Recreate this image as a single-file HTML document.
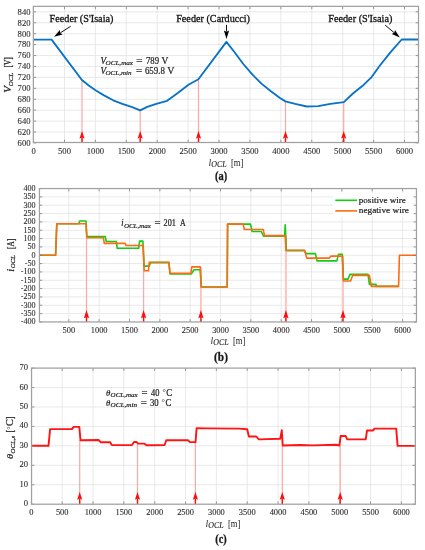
<!DOCTYPE html>
<html><head><meta charset="utf-8"><title>OCL figure</title><style>html,body{margin:0;padding:0;background:#fff;width:425px;height:550px;overflow:hidden}svg{display:block}</style></head><body>
<svg width="425" height="550" viewBox="0 0 425 550">
<rect width="425" height="550" fill="#ffffff"/>
<line x1="33.35" y1="132.02" x2="418.5" y2="132.02" stroke="#e3e3e3" stroke-width="0.8" />
<line x1="33.35" y1="121.09" x2="418.5" y2="121.09" stroke="#e3e3e3" stroke-width="0.8" />
<line x1="33.35" y1="110.17" x2="418.5" y2="110.17" stroke="#e3e3e3" stroke-width="0.8" />
<line x1="33.35" y1="99.25" x2="418.5" y2="99.25" stroke="#e3e3e3" stroke-width="0.8" />
<line x1="33.35" y1="88.32" x2="418.5" y2="88.32" stroke="#e3e3e3" stroke-width="0.8" />
<line x1="33.35" y1="77.4" x2="418.5" y2="77.4" stroke="#e3e3e3" stroke-width="0.8" />
<line x1="33.35" y1="66.48" x2="418.5" y2="66.48" stroke="#e3e3e3" stroke-width="0.8" />
<line x1="33.35" y1="55.55" x2="418.5" y2="55.55" stroke="#e3e3e3" stroke-width="0.8" />
<line x1="33.35" y1="44.63" x2="418.5" y2="44.63" stroke="#e3e3e3" stroke-width="0.8" />
<line x1="33.35" y1="33.71" x2="418.5" y2="33.71" stroke="#e3e3e3" stroke-width="0.8" />
<line x1="33.35" y1="22.78" x2="418.5" y2="22.78" stroke="#e3e3e3" stroke-width="0.8" />
<line x1="33.35" y1="11.86" x2="418.5" y2="11.86" stroke="#e3e3e3" stroke-width="0.8" />
<line x1="64.5" y1="6.35" x2="64.5" y2="142.5" stroke="#e3e3e3" stroke-width="0.8" />
<line x1="95.41" y1="6.35" x2="95.41" y2="142.5" stroke="#e3e3e3" stroke-width="0.8" />
<line x1="126.32" y1="6.35" x2="126.32" y2="142.5" stroke="#e3e3e3" stroke-width="0.8" />
<line x1="157.23" y1="6.35" x2="157.23" y2="142.5" stroke="#e3e3e3" stroke-width="0.8" />
<line x1="188.13" y1="6.35" x2="188.13" y2="142.5" stroke="#e3e3e3" stroke-width="0.8" />
<line x1="219.04" y1="6.35" x2="219.04" y2="142.5" stroke="#e3e3e3" stroke-width="0.8" />
<line x1="249.95" y1="6.35" x2="249.95" y2="142.5" stroke="#e3e3e3" stroke-width="0.8" />
<line x1="280.86" y1="6.35" x2="280.86" y2="142.5" stroke="#e3e3e3" stroke-width="0.8" />
<line x1="311.77" y1="6.35" x2="311.77" y2="142.5" stroke="#e3e3e3" stroke-width="0.8" />
<line x1="342.68" y1="6.35" x2="342.68" y2="142.5" stroke="#e3e3e3" stroke-width="0.8" />
<line x1="373.59" y1="6.35" x2="373.59" y2="142.5" stroke="#e3e3e3" stroke-width="0.8" />
<line x1="404.5" y1="6.35" x2="404.5" y2="142.5" stroke="#e3e3e3" stroke-width="0.8" />
<line x1="82" y1="79.6" x2="82" y2="142.5" stroke="#ffa6a6" stroke-width="1.2" />
<line x1="82" y1="142.5" x2="82" y2="137.3" stroke="#ff0d0d" stroke-width="1.4" />
<path d="M82,130.9 L84.6,138.7 L82,137.3 L79.4,138.7 Z" fill="#ff0d0d"/>
<line x1="140.2" y1="110.3" x2="140.2" y2="142.5" stroke="#ffa6a6" stroke-width="1.2" />
<line x1="140.2" y1="142.5" x2="140.2" y2="137.3" stroke="#ff0d0d" stroke-width="1.4" />
<path d="M140.2,130.9 L142.8,138.7 L140.2,137.3 L137.6,138.7 Z" fill="#ff0d0d"/>
<line x1="198.5" y1="79.4" x2="198.5" y2="142.5" stroke="#ffa6a6" stroke-width="1.2" />
<line x1="198.5" y1="142.5" x2="198.5" y2="137.3" stroke="#ff0d0d" stroke-width="1.4" />
<path d="M198.5,130.9 L201.1,138.7 L198.5,137.3 L195.9,138.7 Z" fill="#ff0d0d"/>
<line x1="285.5" y1="101.3" x2="285.5" y2="142.5" stroke="#ffa6a6" stroke-width="1.2" />
<line x1="285.5" y1="142.5" x2="285.5" y2="137.3" stroke="#ff0d0d" stroke-width="1.4" />
<path d="M285.5,130.9 L288.1,138.7 L285.5,137.3 L282.9,138.7 Z" fill="#ff0d0d"/>
<line x1="343.7" y1="102.3" x2="343.7" y2="142.5" stroke="#ffa6a6" stroke-width="1.2" />
<line x1="343.7" y1="142.5" x2="343.7" y2="137.3" stroke="#ff0d0d" stroke-width="1.4" />
<path d="M343.7,130.9 L346.3,138.7 L343.7,137.3 L341.1,138.7 Z" fill="#ff0d0d"/>
<polyline points="33.9,39.6 51.6,39.6 81.9,80 88.7,85.5 96.3,90.8 104,95.4 113.2,100.3 122.3,103.8 131.5,106.9 140.2,110.4 147.2,106.9 156.3,103.8 167.1,100.8 177.8,93.1 188.5,84.7 198.4,79.3 226.4,41.9 234.2,51.8 243.3,64 252.5,74.7 261.7,83.9 270.9,91.2 280,98 285.4,101.4 295.2,103.9 306.7,106.5 318.2,106.2 330.4,103.9 343.8,102.1 353.2,93.3 362.6,85.8 371.1,77.7 379.5,66 390.8,51.9 401.7,39.5 418,39.5" fill="none" stroke="#0872c8" stroke-width="1.85" stroke-linejoin="round" stroke-linecap="butt" />
<line x1="33.35" y1="142.94" x2="36.15" y2="142.94" stroke="#707070" stroke-width="0.7" />
<line x1="418.5" y1="142.94" x2="415.7" y2="142.94" stroke="#707070" stroke-width="0.7" />
<line x1="33.35" y1="132.02" x2="36.15" y2="132.02" stroke="#707070" stroke-width="0.7" />
<line x1="418.5" y1="132.02" x2="415.7" y2="132.02" stroke="#707070" stroke-width="0.7" />
<line x1="33.35" y1="121.09" x2="36.15" y2="121.09" stroke="#707070" stroke-width="0.7" />
<line x1="418.5" y1="121.09" x2="415.7" y2="121.09" stroke="#707070" stroke-width="0.7" />
<line x1="33.35" y1="110.17" x2="36.15" y2="110.17" stroke="#707070" stroke-width="0.7" />
<line x1="418.5" y1="110.17" x2="415.7" y2="110.17" stroke="#707070" stroke-width="0.7" />
<line x1="33.35" y1="99.25" x2="36.15" y2="99.25" stroke="#707070" stroke-width="0.7" />
<line x1="418.5" y1="99.25" x2="415.7" y2="99.25" stroke="#707070" stroke-width="0.7" />
<line x1="33.35" y1="88.32" x2="36.15" y2="88.32" stroke="#707070" stroke-width="0.7" />
<line x1="418.5" y1="88.32" x2="415.7" y2="88.32" stroke="#707070" stroke-width="0.7" />
<line x1="33.35" y1="77.4" x2="36.15" y2="77.4" stroke="#707070" stroke-width="0.7" />
<line x1="418.5" y1="77.4" x2="415.7" y2="77.4" stroke="#707070" stroke-width="0.7" />
<line x1="33.35" y1="66.48" x2="36.15" y2="66.48" stroke="#707070" stroke-width="0.7" />
<line x1="418.5" y1="66.48" x2="415.7" y2="66.48" stroke="#707070" stroke-width="0.7" />
<line x1="33.35" y1="55.55" x2="36.15" y2="55.55" stroke="#707070" stroke-width="0.7" />
<line x1="418.5" y1="55.55" x2="415.7" y2="55.55" stroke="#707070" stroke-width="0.7" />
<line x1="33.35" y1="44.63" x2="36.15" y2="44.63" stroke="#707070" stroke-width="0.7" />
<line x1="418.5" y1="44.63" x2="415.7" y2="44.63" stroke="#707070" stroke-width="0.7" />
<line x1="33.35" y1="33.71" x2="36.15" y2="33.71" stroke="#707070" stroke-width="0.7" />
<line x1="418.5" y1="33.71" x2="415.7" y2="33.71" stroke="#707070" stroke-width="0.7" />
<line x1="33.35" y1="22.78" x2="36.15" y2="22.78" stroke="#707070" stroke-width="0.7" />
<line x1="418.5" y1="22.78" x2="415.7" y2="22.78" stroke="#707070" stroke-width="0.7" />
<line x1="33.35" y1="11.86" x2="36.15" y2="11.86" stroke="#707070" stroke-width="0.7" />
<line x1="418.5" y1="11.86" x2="415.7" y2="11.86" stroke="#707070" stroke-width="0.7" />
<line x1="33.59" y1="142.5" x2="33.59" y2="139.7" stroke="#707070" stroke-width="0.7" />
<line x1="33.59" y1="6.35" x2="33.59" y2="9.15" stroke="#707070" stroke-width="0.7" />
<line x1="64.5" y1="142.5" x2="64.5" y2="139.7" stroke="#707070" stroke-width="0.7" />
<line x1="64.5" y1="6.35" x2="64.5" y2="9.15" stroke="#707070" stroke-width="0.7" />
<line x1="95.41" y1="142.5" x2="95.41" y2="139.7" stroke="#707070" stroke-width="0.7" />
<line x1="95.41" y1="6.35" x2="95.41" y2="9.15" stroke="#707070" stroke-width="0.7" />
<line x1="126.32" y1="142.5" x2="126.32" y2="139.7" stroke="#707070" stroke-width="0.7" />
<line x1="126.32" y1="6.35" x2="126.32" y2="9.15" stroke="#707070" stroke-width="0.7" />
<line x1="157.23" y1="142.5" x2="157.23" y2="139.7" stroke="#707070" stroke-width="0.7" />
<line x1="157.23" y1="6.35" x2="157.23" y2="9.15" stroke="#707070" stroke-width="0.7" />
<line x1="188.13" y1="142.5" x2="188.13" y2="139.7" stroke="#707070" stroke-width="0.7" />
<line x1="188.13" y1="6.35" x2="188.13" y2="9.15" stroke="#707070" stroke-width="0.7" />
<line x1="219.04" y1="142.5" x2="219.04" y2="139.7" stroke="#707070" stroke-width="0.7" />
<line x1="219.04" y1="6.35" x2="219.04" y2="9.15" stroke="#707070" stroke-width="0.7" />
<line x1="249.95" y1="142.5" x2="249.95" y2="139.7" stroke="#707070" stroke-width="0.7" />
<line x1="249.95" y1="6.35" x2="249.95" y2="9.15" stroke="#707070" stroke-width="0.7" />
<line x1="280.86" y1="142.5" x2="280.86" y2="139.7" stroke="#707070" stroke-width="0.7" />
<line x1="280.86" y1="6.35" x2="280.86" y2="9.15" stroke="#707070" stroke-width="0.7" />
<line x1="311.77" y1="142.5" x2="311.77" y2="139.7" stroke="#707070" stroke-width="0.7" />
<line x1="311.77" y1="6.35" x2="311.77" y2="9.15" stroke="#707070" stroke-width="0.7" />
<line x1="342.68" y1="142.5" x2="342.68" y2="139.7" stroke="#707070" stroke-width="0.7" />
<line x1="342.68" y1="6.35" x2="342.68" y2="9.15" stroke="#707070" stroke-width="0.7" />
<line x1="373.59" y1="142.5" x2="373.59" y2="139.7" stroke="#707070" stroke-width="0.7" />
<line x1="373.59" y1="6.35" x2="373.59" y2="9.15" stroke="#707070" stroke-width="0.7" />
<line x1="404.5" y1="142.5" x2="404.5" y2="139.7" stroke="#707070" stroke-width="0.7" />
<line x1="404.5" y1="6.35" x2="404.5" y2="9.15" stroke="#707070" stroke-width="0.7" />
<rect x="33.35" y="6.35" width="385.15" height="136.15" fill="none" stroke="#a0a0a0" stroke-width="1.25"/>
<text x="30.5" y="145.74" font-size="8.6" text-anchor="end" font-family="'Liberation Serif', 'DejaVu Serif', serif" fill="#2b2b2b" stroke="#2b2b2b" stroke-width="0.1" >600</text>
<text x="30.5" y="134.82" font-size="8.6" text-anchor="end" font-family="'Liberation Serif', 'DejaVu Serif', serif" fill="#2b2b2b" stroke="#2b2b2b" stroke-width="0.1" >620</text>
<text x="30.5" y="123.89" font-size="8.6" text-anchor="end" font-family="'Liberation Serif', 'DejaVu Serif', serif" fill="#2b2b2b" stroke="#2b2b2b" stroke-width="0.1" >640</text>
<text x="30.5" y="112.97" font-size="8.6" text-anchor="end" font-family="'Liberation Serif', 'DejaVu Serif', serif" fill="#2b2b2b" stroke="#2b2b2b" stroke-width="0.1" >660</text>
<text x="30.5" y="102.05" font-size="8.6" text-anchor="end" font-family="'Liberation Serif', 'DejaVu Serif', serif" fill="#2b2b2b" stroke="#2b2b2b" stroke-width="0.1" >680</text>
<text x="30.5" y="91.12" font-size="8.6" text-anchor="end" font-family="'Liberation Serif', 'DejaVu Serif', serif" fill="#2b2b2b" stroke="#2b2b2b" stroke-width="0.1" >700</text>
<text x="30.5" y="80.2" font-size="8.6" text-anchor="end" font-family="'Liberation Serif', 'DejaVu Serif', serif" fill="#2b2b2b" stroke="#2b2b2b" stroke-width="0.1" >720</text>
<text x="30.5" y="69.28" font-size="8.6" text-anchor="end" font-family="'Liberation Serif', 'DejaVu Serif', serif" fill="#2b2b2b" stroke="#2b2b2b" stroke-width="0.1" >740</text>
<text x="30.5" y="58.35" font-size="8.6" text-anchor="end" font-family="'Liberation Serif', 'DejaVu Serif', serif" fill="#2b2b2b" stroke="#2b2b2b" stroke-width="0.1" >760</text>
<text x="30.5" y="47.43" font-size="8.6" text-anchor="end" font-family="'Liberation Serif', 'DejaVu Serif', serif" fill="#2b2b2b" stroke="#2b2b2b" stroke-width="0.1" >780</text>
<text x="30.5" y="36.51" font-size="8.6" text-anchor="end" font-family="'Liberation Serif', 'DejaVu Serif', serif" fill="#2b2b2b" stroke="#2b2b2b" stroke-width="0.1" >800</text>
<text x="30.5" y="25.58" font-size="8.6" text-anchor="end" font-family="'Liberation Serif', 'DejaVu Serif', serif" fill="#2b2b2b" stroke="#2b2b2b" stroke-width="0.1" >820</text>
<text x="30.5" y="14.66" font-size="8.6" text-anchor="end" font-family="'Liberation Serif', 'DejaVu Serif', serif" fill="#2b2b2b" stroke="#2b2b2b" stroke-width="0.1" >840</text>
<text x="33.59" y="154.3" font-size="8.6" text-anchor="middle" font-family="'Liberation Serif', 'DejaVu Serif', serif" fill="#2b2b2b" stroke="#2b2b2b" stroke-width="0.1" >0</text>
<text x="64.5" y="154.3" font-size="8.6" text-anchor="middle" font-family="'Liberation Serif', 'DejaVu Serif', serif" fill="#2b2b2b" stroke="#2b2b2b" stroke-width="0.1" >500</text>
<text x="95.41" y="154.3" font-size="8.6" text-anchor="middle" font-family="'Liberation Serif', 'DejaVu Serif', serif" fill="#2b2b2b" stroke="#2b2b2b" stroke-width="0.1" >1000</text>
<text x="126.32" y="154.3" font-size="8.6" text-anchor="middle" font-family="'Liberation Serif', 'DejaVu Serif', serif" fill="#2b2b2b" stroke="#2b2b2b" stroke-width="0.1" >1500</text>
<text x="157.23" y="154.3" font-size="8.6" text-anchor="middle" font-family="'Liberation Serif', 'DejaVu Serif', serif" fill="#2b2b2b" stroke="#2b2b2b" stroke-width="0.1" >2000</text>
<text x="188.13" y="154.3" font-size="8.6" text-anchor="middle" font-family="'Liberation Serif', 'DejaVu Serif', serif" fill="#2b2b2b" stroke="#2b2b2b" stroke-width="0.1" >2500</text>
<text x="219.04" y="154.3" font-size="8.6" text-anchor="middle" font-family="'Liberation Serif', 'DejaVu Serif', serif" fill="#2b2b2b" stroke="#2b2b2b" stroke-width="0.1" >3000</text>
<text x="249.95" y="154.3" font-size="8.6" text-anchor="middle" font-family="'Liberation Serif', 'DejaVu Serif', serif" fill="#2b2b2b" stroke="#2b2b2b" stroke-width="0.1" >3500</text>
<text x="280.86" y="154.3" font-size="8.6" text-anchor="middle" font-family="'Liberation Serif', 'DejaVu Serif', serif" fill="#2b2b2b" stroke="#2b2b2b" stroke-width="0.1" >4000</text>
<text x="311.77" y="154.3" font-size="8.6" text-anchor="middle" font-family="'Liberation Serif', 'DejaVu Serif', serif" fill="#2b2b2b" stroke="#2b2b2b" stroke-width="0.1" >4500</text>
<text x="342.68" y="154.3" font-size="8.6" text-anchor="middle" font-family="'Liberation Serif', 'DejaVu Serif', serif" fill="#2b2b2b" stroke="#2b2b2b" stroke-width="0.1" >5000</text>
<text x="373.59" y="154.3" font-size="8.6" text-anchor="middle" font-family="'Liberation Serif', 'DejaVu Serif', serif" fill="#2b2b2b" stroke="#2b2b2b" stroke-width="0.1" >5500</text>
<text x="404.5" y="154.3" font-size="8.6" text-anchor="middle" font-family="'Liberation Serif', 'DejaVu Serif', serif" fill="#2b2b2b" stroke="#2b2b2b" stroke-width="0.1" >6000</text>
<line x1="39.45" y1="313.61" x2="416.45" y2="313.61" stroke="#e3e3e3" stroke-width="0.8" />
<line x1="39.45" y1="305.27" x2="416.45" y2="305.27" stroke="#e3e3e3" stroke-width="0.8" />
<line x1="39.45" y1="296.94" x2="416.45" y2="296.94" stroke="#e3e3e3" stroke-width="0.8" />
<line x1="39.45" y1="288.6" x2="416.45" y2="288.6" stroke="#e3e3e3" stroke-width="0.8" />
<line x1="39.45" y1="280.26" x2="416.45" y2="280.26" stroke="#e3e3e3" stroke-width="0.8" />
<line x1="39.45" y1="271.93" x2="416.45" y2="271.93" stroke="#e3e3e3" stroke-width="0.8" />
<line x1="39.45" y1="263.59" x2="416.45" y2="263.59" stroke="#e3e3e3" stroke-width="0.8" />
<line x1="39.45" y1="255.25" x2="416.45" y2="255.25" stroke="#e3e3e3" stroke-width="0.8" />
<line x1="39.45" y1="246.91" x2="416.45" y2="246.91" stroke="#e3e3e3" stroke-width="0.8" />
<line x1="39.45" y1="238.57" x2="416.45" y2="238.57" stroke="#e3e3e3" stroke-width="0.8" />
<line x1="39.45" y1="230.24" x2="416.45" y2="230.24" stroke="#e3e3e3" stroke-width="0.8" />
<line x1="39.45" y1="221.9" x2="416.45" y2="221.9" stroke="#e3e3e3" stroke-width="0.8" />
<line x1="39.45" y1="213.56" x2="416.45" y2="213.56" stroke="#e3e3e3" stroke-width="0.8" />
<line x1="39.45" y1="205.23" x2="416.45" y2="205.23" stroke="#e3e3e3" stroke-width="0.8" />
<line x1="39.45" y1="196.89" x2="416.45" y2="196.89" stroke="#e3e3e3" stroke-width="0.8" />
<line x1="68.8" y1="188.55" x2="68.8" y2="321.95" stroke="#e3e3e3" stroke-width="0.8" />
<line x1="99.14" y1="188.55" x2="99.14" y2="321.95" stroke="#e3e3e3" stroke-width="0.8" />
<line x1="129.49" y1="188.55" x2="129.49" y2="321.95" stroke="#e3e3e3" stroke-width="0.8" />
<line x1="159.83" y1="188.55" x2="159.83" y2="321.95" stroke="#e3e3e3" stroke-width="0.8" />
<line x1="190.18" y1="188.55" x2="190.18" y2="321.95" stroke="#e3e3e3" stroke-width="0.8" />
<line x1="220.52" y1="188.55" x2="220.52" y2="321.95" stroke="#e3e3e3" stroke-width="0.8" />
<line x1="250.87" y1="188.55" x2="250.87" y2="321.95" stroke="#e3e3e3" stroke-width="0.8" />
<line x1="281.21" y1="188.55" x2="281.21" y2="321.95" stroke="#e3e3e3" stroke-width="0.8" />
<line x1="311.56" y1="188.55" x2="311.56" y2="321.95" stroke="#e3e3e3" stroke-width="0.8" />
<line x1="341.9" y1="188.55" x2="341.9" y2="321.95" stroke="#e3e3e3" stroke-width="0.8" />
<line x1="372.25" y1="188.55" x2="372.25" y2="321.95" stroke="#e3e3e3" stroke-width="0.8" />
<line x1="402.6" y1="188.55" x2="402.6" y2="321.95" stroke="#e3e3e3" stroke-width="0.8" />
<line x1="86.5" y1="237.8" x2="86.5" y2="321.95" stroke="#ffa6a6" stroke-width="1.2" />
<line x1="86.5" y1="321.95" x2="86.5" y2="316.9" stroke="#ff0d0d" stroke-width="1.4" />
<path d="M86.5,309.9 L89.15,318.3 L86.5,316.9 L83.85,318.3 Z" fill="#ff0d0d"/>
<line x1="143.6" y1="245.5" x2="143.6" y2="321.95" stroke="#ffa6a6" stroke-width="1.2" />
<line x1="143.6" y1="321.95" x2="143.6" y2="316.9" stroke="#ff0d0d" stroke-width="1.4" />
<path d="M143.6,309.9 L146.25,318.3 L143.6,316.9 L140.95,318.3 Z" fill="#ff0d0d"/>
<line x1="200.9" y1="266.9" x2="200.9" y2="321.95" stroke="#ffbcbc" stroke-width="1.7" />
<line x1="200.9" y1="321.95" x2="200.9" y2="316.9" stroke="#ff0d0d" stroke-width="1.4" />
<path d="M200.9,309.9 L203.55,318.3 L200.9,316.9 L198.25,318.3 Z" fill="#ff0d0d"/>
<line x1="285.9" y1="235.6" x2="285.9" y2="321.95" stroke="#ffc4c4" stroke-width="2.1" />
<line x1="285.9" y1="321.95" x2="285.9" y2="316.9" stroke="#ff0d0d" stroke-width="1.4" />
<path d="M285.9,309.9 L288.55,318.3 L285.9,316.9 L283.25,318.3 Z" fill="#ff0d0d"/>
<line x1="343" y1="256.1" x2="343" y2="321.95" stroke="#ffbcbc" stroke-width="1.7" />
<line x1="343" y1="321.95" x2="343" y2="316.9" stroke="#ff0d0d" stroke-width="1.4" />
<path d="M343,309.9 L345.65,318.3 L343,316.9 L340.35,318.3 Z" fill="#ff0d0d"/>
<polyline points="39.9,255.2 55.6,255.2 56.8,223.7 79,223.7 79.6,221 86,221 86.8,236.6 105.3,236.6 106.2,241.5 116.3,241.5 117.2,248.3 138.6,248.3 139.6,241.1 142.9,241.1 144.1,266.1 149.1,266.1 150.6,262.6 168.9,262.6 170,273.9 191.5,273.9 193.8,269.8 200.3,269.8 201.2,287 227.2,287 227.6,224.1 250.5,224.1 252.1,231.5 261.2,231.5 263.5,236.1 284.6,236.1 285.2,224.9 285.8,236.1 286.3,250.6 303.9,250.6 306.4,253.6 315.4,253.6 317,260.9 336.8,260.9 338.5,254.3 342.3,254.3 343.4,279.1 348,279.1 350,274.4 368,274.4 369.4,284.4 376,284.4 376.5,286.4 398.6,286.4" fill="none" stroke="#14cc14" stroke-width="1.6" stroke-linejoin="round" stroke-linecap="butt" />
<polyline points="39.9,255.2 55.6,255.2 56.8,223.7 86,223.7 86.8,237.8 103.4,237.8 104.3,243.4 125.2,243.4 126,245.5 143,245.5 144.2,270.8 148.4,270.8 149.3,262.2 168.9,262.2 170,273.3 190.9,273.3 191.8,266.9 200.2,266.9 201.2,287 227.2,287 227.6,224.1 243.1,224.1 244.4,229.5 263.2,229.5 264.5,235.6 285.1,235.6 286.1,250.2 304.7,250.2 306.7,258.1 329.4,258.1 331,256.1 342.3,256.1 343.4,281 350.6,281 352.6,275.4 369.4,275.4 371.4,286.4 398.6,286.4 399.4,255.2 416,255.2" fill="none" stroke="#ff6a13" stroke-width="1.6" stroke-linejoin="round" stroke-linecap="butt" />
<rect x="333" y="193" width="81" height="24" fill="#ffffff"/>
<line x1="335.3" y1="200.3" x2="357" y2="200.3" stroke="#14cc14" stroke-width="1.6" />
<line x1="335.3" y1="210.9" x2="357" y2="210.9" stroke="#ff6a13" stroke-width="1.6" />
<line x1="39.45" y1="321.95" x2="42.25" y2="321.95" stroke="#707070" stroke-width="0.7" />
<line x1="416.45" y1="321.95" x2="413.65" y2="321.95" stroke="#707070" stroke-width="0.7" />
<line x1="39.45" y1="313.61" x2="42.25" y2="313.61" stroke="#707070" stroke-width="0.7" />
<line x1="416.45" y1="313.61" x2="413.65" y2="313.61" stroke="#707070" stroke-width="0.7" />
<line x1="39.45" y1="305.27" x2="42.25" y2="305.27" stroke="#707070" stroke-width="0.7" />
<line x1="416.45" y1="305.27" x2="413.65" y2="305.27" stroke="#707070" stroke-width="0.7" />
<line x1="39.45" y1="296.94" x2="42.25" y2="296.94" stroke="#707070" stroke-width="0.7" />
<line x1="416.45" y1="296.94" x2="413.65" y2="296.94" stroke="#707070" stroke-width="0.7" />
<line x1="39.45" y1="288.6" x2="42.25" y2="288.6" stroke="#707070" stroke-width="0.7" />
<line x1="416.45" y1="288.6" x2="413.65" y2="288.6" stroke="#707070" stroke-width="0.7" />
<line x1="39.45" y1="280.26" x2="42.25" y2="280.26" stroke="#707070" stroke-width="0.7" />
<line x1="416.45" y1="280.26" x2="413.65" y2="280.26" stroke="#707070" stroke-width="0.7" />
<line x1="39.45" y1="271.93" x2="42.25" y2="271.93" stroke="#707070" stroke-width="0.7" />
<line x1="416.45" y1="271.93" x2="413.65" y2="271.93" stroke="#707070" stroke-width="0.7" />
<line x1="39.45" y1="263.59" x2="42.25" y2="263.59" stroke="#707070" stroke-width="0.7" />
<line x1="416.45" y1="263.59" x2="413.65" y2="263.59" stroke="#707070" stroke-width="0.7" />
<line x1="39.45" y1="255.25" x2="42.25" y2="255.25" stroke="#707070" stroke-width="0.7" />
<line x1="416.45" y1="255.25" x2="413.65" y2="255.25" stroke="#707070" stroke-width="0.7" />
<line x1="39.45" y1="246.91" x2="42.25" y2="246.91" stroke="#707070" stroke-width="0.7" />
<line x1="416.45" y1="246.91" x2="413.65" y2="246.91" stroke="#707070" stroke-width="0.7" />
<line x1="39.45" y1="238.57" x2="42.25" y2="238.57" stroke="#707070" stroke-width="0.7" />
<line x1="416.45" y1="238.57" x2="413.65" y2="238.57" stroke="#707070" stroke-width="0.7" />
<line x1="39.45" y1="230.24" x2="42.25" y2="230.24" stroke="#707070" stroke-width="0.7" />
<line x1="416.45" y1="230.24" x2="413.65" y2="230.24" stroke="#707070" stroke-width="0.7" />
<line x1="39.45" y1="221.9" x2="42.25" y2="221.9" stroke="#707070" stroke-width="0.7" />
<line x1="416.45" y1="221.9" x2="413.65" y2="221.9" stroke="#707070" stroke-width="0.7" />
<line x1="39.45" y1="213.56" x2="42.25" y2="213.56" stroke="#707070" stroke-width="0.7" />
<line x1="416.45" y1="213.56" x2="413.65" y2="213.56" stroke="#707070" stroke-width="0.7" />
<line x1="39.45" y1="205.23" x2="42.25" y2="205.23" stroke="#707070" stroke-width="0.7" />
<line x1="416.45" y1="205.23" x2="413.65" y2="205.23" stroke="#707070" stroke-width="0.7" />
<line x1="39.45" y1="196.89" x2="42.25" y2="196.89" stroke="#707070" stroke-width="0.7" />
<line x1="416.45" y1="196.89" x2="413.65" y2="196.89" stroke="#707070" stroke-width="0.7" />
<line x1="39.45" y1="188.55" x2="42.25" y2="188.55" stroke="#707070" stroke-width="0.7" />
<line x1="416.45" y1="188.55" x2="413.65" y2="188.55" stroke="#707070" stroke-width="0.7" />
<line x1="68.8" y1="321.95" x2="68.8" y2="319.15" stroke="#707070" stroke-width="0.7" />
<line x1="68.8" y1="188.55" x2="68.8" y2="191.35" stroke="#707070" stroke-width="0.7" />
<line x1="99.14" y1="321.95" x2="99.14" y2="319.15" stroke="#707070" stroke-width="0.7" />
<line x1="99.14" y1="188.55" x2="99.14" y2="191.35" stroke="#707070" stroke-width="0.7" />
<line x1="129.49" y1="321.95" x2="129.49" y2="319.15" stroke="#707070" stroke-width="0.7" />
<line x1="129.49" y1="188.55" x2="129.49" y2="191.35" stroke="#707070" stroke-width="0.7" />
<line x1="159.83" y1="321.95" x2="159.83" y2="319.15" stroke="#707070" stroke-width="0.7" />
<line x1="159.83" y1="188.55" x2="159.83" y2="191.35" stroke="#707070" stroke-width="0.7" />
<line x1="190.18" y1="321.95" x2="190.18" y2="319.15" stroke="#707070" stroke-width="0.7" />
<line x1="190.18" y1="188.55" x2="190.18" y2="191.35" stroke="#707070" stroke-width="0.7" />
<line x1="220.52" y1="321.95" x2="220.52" y2="319.15" stroke="#707070" stroke-width="0.7" />
<line x1="220.52" y1="188.55" x2="220.52" y2="191.35" stroke="#707070" stroke-width="0.7" />
<line x1="250.87" y1="321.95" x2="250.87" y2="319.15" stroke="#707070" stroke-width="0.7" />
<line x1="250.87" y1="188.55" x2="250.87" y2="191.35" stroke="#707070" stroke-width="0.7" />
<line x1="281.21" y1="321.95" x2="281.21" y2="319.15" stroke="#707070" stroke-width="0.7" />
<line x1="281.21" y1="188.55" x2="281.21" y2="191.35" stroke="#707070" stroke-width="0.7" />
<line x1="311.56" y1="321.95" x2="311.56" y2="319.15" stroke="#707070" stroke-width="0.7" />
<line x1="311.56" y1="188.55" x2="311.56" y2="191.35" stroke="#707070" stroke-width="0.7" />
<line x1="341.9" y1="321.95" x2="341.9" y2="319.15" stroke="#707070" stroke-width="0.7" />
<line x1="341.9" y1="188.55" x2="341.9" y2="191.35" stroke="#707070" stroke-width="0.7" />
<line x1="372.25" y1="321.95" x2="372.25" y2="319.15" stroke="#707070" stroke-width="0.7" />
<line x1="372.25" y1="188.55" x2="372.25" y2="191.35" stroke="#707070" stroke-width="0.7" />
<line x1="402.6" y1="321.95" x2="402.6" y2="319.15" stroke="#707070" stroke-width="0.7" />
<line x1="402.6" y1="188.55" x2="402.6" y2="191.35" stroke="#707070" stroke-width="0.7" />
<rect x="39.45" y="188.55" width="377" height="133.4" fill="none" stroke="#a0a0a0" stroke-width="1.25"/>
<text x="35.6" y="324.45" font-size="8.1" text-anchor="end" font-family="'Liberation Serif', 'DejaVu Serif', serif" fill="#2b2b2b" stroke="#2b2b2b" stroke-width="0.1" >-400</text>
<text x="35.6" y="316.11" font-size="8.1" text-anchor="end" font-family="'Liberation Serif', 'DejaVu Serif', serif" fill="#2b2b2b" stroke="#2b2b2b" stroke-width="0.1" >-350</text>
<text x="35.6" y="307.77" font-size="8.1" text-anchor="end" font-family="'Liberation Serif', 'DejaVu Serif', serif" fill="#2b2b2b" stroke="#2b2b2b" stroke-width="0.1" >-300</text>
<text x="35.6" y="299.44" font-size="8.1" text-anchor="end" font-family="'Liberation Serif', 'DejaVu Serif', serif" fill="#2b2b2b" stroke="#2b2b2b" stroke-width="0.1" >-250</text>
<text x="35.6" y="291.1" font-size="8.1" text-anchor="end" font-family="'Liberation Serif', 'DejaVu Serif', serif" fill="#2b2b2b" stroke="#2b2b2b" stroke-width="0.1" >-200</text>
<text x="35.6" y="282.76" font-size="8.1" text-anchor="end" font-family="'Liberation Serif', 'DejaVu Serif', serif" fill="#2b2b2b" stroke="#2b2b2b" stroke-width="0.1" >-150</text>
<text x="35.6" y="274.43" font-size="8.1" text-anchor="end" font-family="'Liberation Serif', 'DejaVu Serif', serif" fill="#2b2b2b" stroke="#2b2b2b" stroke-width="0.1" >-100</text>
<text x="35.6" y="266.09" font-size="8.1" text-anchor="end" font-family="'Liberation Serif', 'DejaVu Serif', serif" fill="#2b2b2b" stroke="#2b2b2b" stroke-width="0.1" >-50</text>
<text x="35.6" y="257.75" font-size="8.1" text-anchor="end" font-family="'Liberation Serif', 'DejaVu Serif', serif" fill="#2b2b2b" stroke="#2b2b2b" stroke-width="0.1" >0</text>
<text x="35.6" y="249.41" font-size="8.1" text-anchor="end" font-family="'Liberation Serif', 'DejaVu Serif', serif" fill="#2b2b2b" stroke="#2b2b2b" stroke-width="0.1" >50</text>
<text x="35.6" y="241.07" font-size="8.1" text-anchor="end" font-family="'Liberation Serif', 'DejaVu Serif', serif" fill="#2b2b2b" stroke="#2b2b2b" stroke-width="0.1" >100</text>
<text x="35.6" y="232.74" font-size="8.1" text-anchor="end" font-family="'Liberation Serif', 'DejaVu Serif', serif" fill="#2b2b2b" stroke="#2b2b2b" stroke-width="0.1" >150</text>
<text x="35.6" y="224.4" font-size="8.1" text-anchor="end" font-family="'Liberation Serif', 'DejaVu Serif', serif" fill="#2b2b2b" stroke="#2b2b2b" stroke-width="0.1" >200</text>
<text x="35.6" y="216.06" font-size="8.1" text-anchor="end" font-family="'Liberation Serif', 'DejaVu Serif', serif" fill="#2b2b2b" stroke="#2b2b2b" stroke-width="0.1" >250</text>
<text x="35.6" y="207.73" font-size="8.1" text-anchor="end" font-family="'Liberation Serif', 'DejaVu Serif', serif" fill="#2b2b2b" stroke="#2b2b2b" stroke-width="0.1" >300</text>
<text x="35.6" y="199.39" font-size="8.1" text-anchor="end" font-family="'Liberation Serif', 'DejaVu Serif', serif" fill="#2b2b2b" stroke="#2b2b2b" stroke-width="0.1" >350</text>
<text x="35.6" y="191.05" font-size="8.1" text-anchor="end" font-family="'Liberation Serif', 'DejaVu Serif', serif" fill="#2b2b2b" stroke="#2b2b2b" stroke-width="0.1" >400</text>
<text x="68.8" y="332.6" font-size="8.4" text-anchor="middle" font-family="'Liberation Serif', 'DejaVu Serif', serif" fill="#2b2b2b" stroke="#2b2b2b" stroke-width="0.1" >500</text>
<text x="99.14" y="332.6" font-size="8.4" text-anchor="middle" font-family="'Liberation Serif', 'DejaVu Serif', serif" fill="#2b2b2b" stroke="#2b2b2b" stroke-width="0.1" >1000</text>
<text x="129.49" y="332.6" font-size="8.4" text-anchor="middle" font-family="'Liberation Serif', 'DejaVu Serif', serif" fill="#2b2b2b" stroke="#2b2b2b" stroke-width="0.1" >1500</text>
<text x="159.83" y="332.6" font-size="8.4" text-anchor="middle" font-family="'Liberation Serif', 'DejaVu Serif', serif" fill="#2b2b2b" stroke="#2b2b2b" stroke-width="0.1" >2000</text>
<text x="190.18" y="332.6" font-size="8.4" text-anchor="middle" font-family="'Liberation Serif', 'DejaVu Serif', serif" fill="#2b2b2b" stroke="#2b2b2b" stroke-width="0.1" >2500</text>
<text x="220.52" y="332.6" font-size="8.4" text-anchor="middle" font-family="'Liberation Serif', 'DejaVu Serif', serif" fill="#2b2b2b" stroke="#2b2b2b" stroke-width="0.1" >3000</text>
<text x="250.87" y="332.6" font-size="8.4" text-anchor="middle" font-family="'Liberation Serif', 'DejaVu Serif', serif" fill="#2b2b2b" stroke="#2b2b2b" stroke-width="0.1" >3500</text>
<text x="281.21" y="332.6" font-size="8.4" text-anchor="middle" font-family="'Liberation Serif', 'DejaVu Serif', serif" fill="#2b2b2b" stroke="#2b2b2b" stroke-width="0.1" >4000</text>
<text x="311.56" y="332.6" font-size="8.4" text-anchor="middle" font-family="'Liberation Serif', 'DejaVu Serif', serif" fill="#2b2b2b" stroke="#2b2b2b" stroke-width="0.1" >4500</text>
<text x="341.9" y="332.6" font-size="8.4" text-anchor="middle" font-family="'Liberation Serif', 'DejaVu Serif', serif" fill="#2b2b2b" stroke="#2b2b2b" stroke-width="0.1" >5000</text>
<text x="372.25" y="332.6" font-size="8.4" text-anchor="middle" font-family="'Liberation Serif', 'DejaVu Serif', serif" fill="#2b2b2b" stroke="#2b2b2b" stroke-width="0.1" >5500</text>
<text x="402.6" y="332.6" font-size="8.4" text-anchor="middle" font-family="'Liberation Serif', 'DejaVu Serif', serif" fill="#2b2b2b" stroke="#2b2b2b" stroke-width="0.1" >6000</text>
<line x1="31.55" y1="484.76" x2="415.35" y2="484.76" stroke="#e3e3e3" stroke-width="0.8" />
<line x1="31.55" y1="465.31" x2="415.35" y2="465.31" stroke="#e3e3e3" stroke-width="0.8" />
<line x1="31.55" y1="445.87" x2="415.35" y2="445.87" stroke="#e3e3e3" stroke-width="0.8" />
<line x1="31.55" y1="426.43" x2="415.35" y2="426.43" stroke="#e3e3e3" stroke-width="0.8" />
<line x1="31.55" y1="406.99" x2="415.35" y2="406.99" stroke="#e3e3e3" stroke-width="0.8" />
<line x1="31.55" y1="387.54" x2="415.35" y2="387.54" stroke="#e3e3e3" stroke-width="0.8" />
<line x1="62.2" y1="368.1" x2="62.2" y2="504.2" stroke="#e3e3e3" stroke-width="0.8" />
<line x1="93.03" y1="368.1" x2="93.03" y2="504.2" stroke="#e3e3e3" stroke-width="0.8" />
<line x1="123.87" y1="368.1" x2="123.87" y2="504.2" stroke="#e3e3e3" stroke-width="0.8" />
<line x1="154.71" y1="368.1" x2="154.71" y2="504.2" stroke="#e3e3e3" stroke-width="0.8" />
<line x1="185.54" y1="368.1" x2="185.54" y2="504.2" stroke="#e3e3e3" stroke-width="0.8" />
<line x1="216.38" y1="368.1" x2="216.38" y2="504.2" stroke="#e3e3e3" stroke-width="0.8" />
<line x1="247.22" y1="368.1" x2="247.22" y2="504.2" stroke="#e3e3e3" stroke-width="0.8" />
<line x1="278.05" y1="368.1" x2="278.05" y2="504.2" stroke="#e3e3e3" stroke-width="0.8" />
<line x1="308.89" y1="368.1" x2="308.89" y2="504.2" stroke="#e3e3e3" stroke-width="0.8" />
<line x1="339.73" y1="368.1" x2="339.73" y2="504.2" stroke="#e3e3e3" stroke-width="0.8" />
<line x1="370.56" y1="368.1" x2="370.56" y2="504.2" stroke="#e3e3e3" stroke-width="0.8" />
<line x1="401.4" y1="368.1" x2="401.4" y2="504.2" stroke="#e3e3e3" stroke-width="0.8" />
<line x1="79.7" y1="440" x2="79.7" y2="504.2" stroke="#ffa6a6" stroke-width="1.2" />
<line x1="79.7" y1="504.2" x2="79.7" y2="498.4" stroke="#ff0d0d" stroke-width="1.4" />
<path d="M79.7,492 L82.3,499.8 L79.7,498.4 L77.1,499.8 Z" fill="#ff0d0d"/>
<line x1="137.5" y1="443.6" x2="137.5" y2="504.2" stroke="#ffa6a6" stroke-width="1.2" />
<line x1="137.5" y1="504.2" x2="137.5" y2="498.4" stroke="#ff0d0d" stroke-width="1.4" />
<path d="M137.5,492 L140.1,499.8 L137.5,498.4 L134.9,499.8 Z" fill="#ff0d0d"/>
<line x1="195.4" y1="441.9" x2="195.4" y2="504.2" stroke="#ffa6a6" stroke-width="1.2" />
<line x1="195.4" y1="504.2" x2="195.4" y2="498.4" stroke="#ff0d0d" stroke-width="1.4" />
<path d="M195.4,492 L198,499.8 L195.4,498.4 L192.8,499.8 Z" fill="#ff0d0d"/>
<line x1="282.3" y1="445.5" x2="282.3" y2="504.2" stroke="#ffa6a6" stroke-width="1.2" />
<line x1="282.3" y1="504.2" x2="282.3" y2="498.4" stroke="#ff0d0d" stroke-width="1.4" />
<path d="M282.3,492 L284.9,499.8 L282.3,498.4 L279.7,499.8 Z" fill="#ff0d0d"/>
<line x1="340.2" y1="445.5" x2="340.2" y2="504.2" stroke="#ffa6a6" stroke-width="1.2" />
<line x1="340.2" y1="504.2" x2="340.2" y2="498.4" stroke="#ff0d0d" stroke-width="1.4" />
<path d="M340.2,492 L342.8,499.8 L340.2,498.4 L337.6,499.8 Z" fill="#ff0d0d"/>
<polyline points="32.1,445.8 48.5,445.8 50.1,429.1 72,429.1 73.6,426.9 79.3,426.9 80.5,440.2 98.6,440 100.8,442.3 110.2,442.3 111.8,445.1 132,445.1 134,442 136.5,442 138.2,443.6 144.4,443.6 146.4,445.3 164.6,445 166.3,440.3 188,440.3 190,442.1 195.5,442.1 196.6,428.2 207,428.4 239,428.6 247.2,429.2 248.9,436.5 256.3,436.5 258.8,439.4 280.2,438.8 281.8,430.2 282.7,445.5 300.6,445 313,445.4 336,444.8 339.4,445.5 340.7,436 345.6,436 347.3,439.4 365.8,439.2 367,430.5 372.9,430.5 374.6,428.6 396.2,428.6 397.6,445.9 414.8,445.9" fill="none" stroke="#ff1414" stroke-width="1.9" stroke-linejoin="round" stroke-linecap="butt" />
<line x1="31.55" y1="504.2" x2="34.35" y2="504.2" stroke="#707070" stroke-width="0.7" />
<line x1="415.35" y1="504.2" x2="412.55" y2="504.2" stroke="#707070" stroke-width="0.7" />
<line x1="31.55" y1="484.76" x2="34.35" y2="484.76" stroke="#707070" stroke-width="0.7" />
<line x1="415.35" y1="484.76" x2="412.55" y2="484.76" stroke="#707070" stroke-width="0.7" />
<line x1="31.55" y1="465.31" x2="34.35" y2="465.31" stroke="#707070" stroke-width="0.7" />
<line x1="415.35" y1="465.31" x2="412.55" y2="465.31" stroke="#707070" stroke-width="0.7" />
<line x1="31.55" y1="445.87" x2="34.35" y2="445.87" stroke="#707070" stroke-width="0.7" />
<line x1="415.35" y1="445.87" x2="412.55" y2="445.87" stroke="#707070" stroke-width="0.7" />
<line x1="31.55" y1="426.43" x2="34.35" y2="426.43" stroke="#707070" stroke-width="0.7" />
<line x1="415.35" y1="426.43" x2="412.55" y2="426.43" stroke="#707070" stroke-width="0.7" />
<line x1="31.55" y1="406.99" x2="34.35" y2="406.99" stroke="#707070" stroke-width="0.7" />
<line x1="415.35" y1="406.99" x2="412.55" y2="406.99" stroke="#707070" stroke-width="0.7" />
<line x1="31.55" y1="387.54" x2="34.35" y2="387.54" stroke="#707070" stroke-width="0.7" />
<line x1="415.35" y1="387.54" x2="412.55" y2="387.54" stroke="#707070" stroke-width="0.7" />
<line x1="31.55" y1="368.1" x2="34.35" y2="368.1" stroke="#707070" stroke-width="0.7" />
<line x1="415.35" y1="368.1" x2="412.55" y2="368.1" stroke="#707070" stroke-width="0.7" />
<line x1="31.36" y1="504.2" x2="31.36" y2="501.4" stroke="#707070" stroke-width="0.7" />
<line x1="31.36" y1="368.1" x2="31.36" y2="370.9" stroke="#707070" stroke-width="0.7" />
<line x1="62.2" y1="504.2" x2="62.2" y2="501.4" stroke="#707070" stroke-width="0.7" />
<line x1="62.2" y1="368.1" x2="62.2" y2="370.9" stroke="#707070" stroke-width="0.7" />
<line x1="93.03" y1="504.2" x2="93.03" y2="501.4" stroke="#707070" stroke-width="0.7" />
<line x1="93.03" y1="368.1" x2="93.03" y2="370.9" stroke="#707070" stroke-width="0.7" />
<line x1="123.87" y1="504.2" x2="123.87" y2="501.4" stroke="#707070" stroke-width="0.7" />
<line x1="123.87" y1="368.1" x2="123.87" y2="370.9" stroke="#707070" stroke-width="0.7" />
<line x1="154.71" y1="504.2" x2="154.71" y2="501.4" stroke="#707070" stroke-width="0.7" />
<line x1="154.71" y1="368.1" x2="154.71" y2="370.9" stroke="#707070" stroke-width="0.7" />
<line x1="185.54" y1="504.2" x2="185.54" y2="501.4" stroke="#707070" stroke-width="0.7" />
<line x1="185.54" y1="368.1" x2="185.54" y2="370.9" stroke="#707070" stroke-width="0.7" />
<line x1="216.38" y1="504.2" x2="216.38" y2="501.4" stroke="#707070" stroke-width="0.7" />
<line x1="216.38" y1="368.1" x2="216.38" y2="370.9" stroke="#707070" stroke-width="0.7" />
<line x1="247.22" y1="504.2" x2="247.22" y2="501.4" stroke="#707070" stroke-width="0.7" />
<line x1="247.22" y1="368.1" x2="247.22" y2="370.9" stroke="#707070" stroke-width="0.7" />
<line x1="278.05" y1="504.2" x2="278.05" y2="501.4" stroke="#707070" stroke-width="0.7" />
<line x1="278.05" y1="368.1" x2="278.05" y2="370.9" stroke="#707070" stroke-width="0.7" />
<line x1="308.89" y1="504.2" x2="308.89" y2="501.4" stroke="#707070" stroke-width="0.7" />
<line x1="308.89" y1="368.1" x2="308.89" y2="370.9" stroke="#707070" stroke-width="0.7" />
<line x1="339.73" y1="504.2" x2="339.73" y2="501.4" stroke="#707070" stroke-width="0.7" />
<line x1="339.73" y1="368.1" x2="339.73" y2="370.9" stroke="#707070" stroke-width="0.7" />
<line x1="370.56" y1="504.2" x2="370.56" y2="501.4" stroke="#707070" stroke-width="0.7" />
<line x1="370.56" y1="368.1" x2="370.56" y2="370.9" stroke="#707070" stroke-width="0.7" />
<line x1="401.4" y1="504.2" x2="401.4" y2="501.4" stroke="#707070" stroke-width="0.7" />
<line x1="401.4" y1="368.1" x2="401.4" y2="370.9" stroke="#707070" stroke-width="0.7" />
<rect x="31.55" y="368.1" width="383.8" height="136.1" fill="none" stroke="#a0a0a0" stroke-width="1.25"/>
<text x="28.1" y="506.2" font-size="8.6" text-anchor="end" font-family="'Liberation Serif', 'DejaVu Serif', serif" fill="#2b2b2b" stroke="#2b2b2b" stroke-width="0.1" >0</text>
<text x="28.1" y="486.76" font-size="8.6" text-anchor="end" font-family="'Liberation Serif', 'DejaVu Serif', serif" fill="#2b2b2b" stroke="#2b2b2b" stroke-width="0.1" >10</text>
<text x="28.1" y="467.31" font-size="8.6" text-anchor="end" font-family="'Liberation Serif', 'DejaVu Serif', serif" fill="#2b2b2b" stroke="#2b2b2b" stroke-width="0.1" >20</text>
<text x="28.1" y="447.87" font-size="8.6" text-anchor="end" font-family="'Liberation Serif', 'DejaVu Serif', serif" fill="#2b2b2b" stroke="#2b2b2b" stroke-width="0.1" >30</text>
<text x="28.1" y="428.43" font-size="8.6" text-anchor="end" font-family="'Liberation Serif', 'DejaVu Serif', serif" fill="#2b2b2b" stroke="#2b2b2b" stroke-width="0.1" >40</text>
<text x="28.1" y="408.99" font-size="8.6" text-anchor="end" font-family="'Liberation Serif', 'DejaVu Serif', serif" fill="#2b2b2b" stroke="#2b2b2b" stroke-width="0.1" >50</text>
<text x="28.1" y="389.54" font-size="8.6" text-anchor="end" font-family="'Liberation Serif', 'DejaVu Serif', serif" fill="#2b2b2b" stroke="#2b2b2b" stroke-width="0.1" >60</text>
<text x="28.1" y="370.1" font-size="8.6" text-anchor="end" font-family="'Liberation Serif', 'DejaVu Serif', serif" fill="#2b2b2b" stroke="#2b2b2b" stroke-width="0.1" >70</text>
<text x="31.36" y="514.5" font-size="8.4" text-anchor="middle" font-family="'Liberation Serif', 'DejaVu Serif', serif" fill="#2b2b2b" stroke="#2b2b2b" stroke-width="0.1" >0</text>
<text x="62.2" y="514.5" font-size="8.4" text-anchor="middle" font-family="'Liberation Serif', 'DejaVu Serif', serif" fill="#2b2b2b" stroke="#2b2b2b" stroke-width="0.1" >500</text>
<text x="93.03" y="514.5" font-size="8.4" text-anchor="middle" font-family="'Liberation Serif', 'DejaVu Serif', serif" fill="#2b2b2b" stroke="#2b2b2b" stroke-width="0.1" >1000</text>
<text x="123.87" y="514.5" font-size="8.4" text-anchor="middle" font-family="'Liberation Serif', 'DejaVu Serif', serif" fill="#2b2b2b" stroke="#2b2b2b" stroke-width="0.1" >1500</text>
<text x="154.71" y="514.5" font-size="8.4" text-anchor="middle" font-family="'Liberation Serif', 'DejaVu Serif', serif" fill="#2b2b2b" stroke="#2b2b2b" stroke-width="0.1" >2000</text>
<text x="185.54" y="514.5" font-size="8.4" text-anchor="middle" font-family="'Liberation Serif', 'DejaVu Serif', serif" fill="#2b2b2b" stroke="#2b2b2b" stroke-width="0.1" >2500</text>
<text x="216.38" y="514.5" font-size="8.4" text-anchor="middle" font-family="'Liberation Serif', 'DejaVu Serif', serif" fill="#2b2b2b" stroke="#2b2b2b" stroke-width="0.1" >3000</text>
<text x="247.22" y="514.5" font-size="8.4" text-anchor="middle" font-family="'Liberation Serif', 'DejaVu Serif', serif" fill="#2b2b2b" stroke="#2b2b2b" stroke-width="0.1" >3500</text>
<text x="278.05" y="514.5" font-size="8.4" text-anchor="middle" font-family="'Liberation Serif', 'DejaVu Serif', serif" fill="#2b2b2b" stroke="#2b2b2b" stroke-width="0.1" >4000</text>
<text x="308.89" y="514.5" font-size="8.4" text-anchor="middle" font-family="'Liberation Serif', 'DejaVu Serif', serif" fill="#2b2b2b" stroke="#2b2b2b" stroke-width="0.1" >4500</text>
<text x="339.73" y="514.5" font-size="8.4" text-anchor="middle" font-family="'Liberation Serif', 'DejaVu Serif', serif" fill="#2b2b2b" stroke="#2b2b2b" stroke-width="0.1" >5000</text>
<text x="370.56" y="514.5" font-size="8.4" text-anchor="middle" font-family="'Liberation Serif', 'DejaVu Serif', serif" fill="#2b2b2b" stroke="#2b2b2b" stroke-width="0.1" >5500</text>
<text x="401.4" y="514.5" font-size="8.4" text-anchor="middle" font-family="'Liberation Serif', 'DejaVu Serif', serif" fill="#2b2b2b" stroke="#2b2b2b" stroke-width="0.1" >6000</text>
<text x="49.6" y="22.3" font-size="10.6" text-anchor="start" font-family="'Liberation Serif', 'DejaVu Serif', serif" fill="#111" stroke="#111" stroke-width="0.3" textLength="63.8" lengthAdjust="spacingAndGlyphs" >Feeder (S'Isaia)</text>
<text x="176.2" y="22.2" font-size="10.6" text-anchor="start" font-family="'Liberation Serif', 'DejaVu Serif', serif" fill="#111" stroke="#111" stroke-width="0.3" textLength="73.8" lengthAdjust="spacingAndGlyphs" >Feeder (Carducci)</text>
<text x="328.2" y="22.3" font-size="10.6" text-anchor="start" font-family="'Liberation Serif', 'DejaVu Serif', serif" fill="#111" stroke="#111" stroke-width="0.3" textLength="64.2" lengthAdjust="spacingAndGlyphs" >Feeder (S'Isaia)</text>
<line x1="70.7" y1="26.3" x2="60.35" y2="32.84" stroke="#111" stroke-width="1.0" />
<path d="M54.1,36.8 L59.81,30.11 L60.18,32.95 L62.59,34.51 Z" fill="#000"/>
<line x1="226.5" y1="24.9" x2="226.5" y2="31.5" stroke="#111" stroke-width="1.0" />
<path d="M226.5,38.9 L223.9,30.5 L226.5,31.7 L229.1,30.5 Z" fill="#000"/>
<line x1="385.1" y1="25.1" x2="394.12" y2="32.65" stroke="#111" stroke-width="1.0" />
<path d="M399.8,37.4 L391.69,34 L394.28,32.78 L395.03,30.02 Z" fill="#000"/>
<text x="100.4" y="63.9" font-size="9.4" text-anchor="start" font-family="'Liberation Serif', 'DejaVu Serif', serif" fill="#1f1f1f" stroke="#1f1f1f" stroke-width="0.22" font-style="italic" textLength="5.6" lengthAdjust="spacingAndGlyphs" >V</text>
<text x="105.5" y="65.3" font-size="6.8" text-anchor="start" font-family="'Liberation Serif', 'DejaVu Serif', serif" fill="#1f1f1f" stroke="#1f1f1f" stroke-width="0.22" font-style="italic" textLength="27.5" lengthAdjust="spacingAndGlyphs" >OCL,max</text>
<text x="136.3" y="63.9" font-size="9.4" text-anchor="start" font-family="'Liberation Serif', 'DejaVu Serif', serif" fill="#1f1f1f" stroke="#1f1f1f" stroke-width="0.22" textLength="6.3" lengthAdjust="spacingAndGlyphs" >=</text>
<text x="146" y="63.9" font-size="9.4" text-anchor="start" font-family="'Liberation Serif', 'DejaVu Serif', serif" fill="#1f1f1f" stroke="#1f1f1f" stroke-width="0.22" textLength="13.1" lengthAdjust="spacingAndGlyphs" >789</text>
<text x="161.5" y="63.9" font-size="9.4" text-anchor="start" font-family="'Liberation Serif', 'DejaVu Serif', serif" fill="#1f1f1f" stroke="#1f1f1f" stroke-width="0.22" textLength="6.9" lengthAdjust="spacingAndGlyphs" >V</text>
<text x="100.4" y="74" font-size="9.4" text-anchor="start" font-family="'Liberation Serif', 'DejaVu Serif', serif" fill="#1f1f1f" stroke="#1f1f1f" stroke-width="0.22" font-style="italic" textLength="5.6" lengthAdjust="spacingAndGlyphs" >V</text>
<text x="105.5" y="75.4" font-size="6.8" text-anchor="start" font-family="'Liberation Serif', 'DejaVu Serif', serif" fill="#1f1f1f" stroke="#1f1f1f" stroke-width="0.22" font-style="italic" textLength="25.9" lengthAdjust="spacingAndGlyphs" >OCL,min</text>
<text x="135.9" y="74" font-size="9.4" text-anchor="start" font-family="'Liberation Serif', 'DejaVu Serif', serif" fill="#1f1f1f" stroke="#1f1f1f" stroke-width="0.22" textLength="6.2" lengthAdjust="spacingAndGlyphs" >=</text>
<text x="144.9" y="74" font-size="9.4" text-anchor="start" font-family="'Liberation Serif', 'DejaVu Serif', serif" fill="#1f1f1f" stroke="#1f1f1f" stroke-width="0.22" textLength="20" lengthAdjust="spacingAndGlyphs" >659.8</text>
<text x="167.2" y="74" font-size="9.4" text-anchor="start" font-family="'Liberation Serif', 'DejaVu Serif', serif" fill="#1f1f1f" stroke="#1f1f1f" stroke-width="0.22" textLength="7.2" lengthAdjust="spacingAndGlyphs" >V</text>
<text x="121.3" y="226.3" font-size="9.4" text-anchor="start" font-family="'Liberation Serif', 'DejaVu Serif', serif" fill="#1f1f1f" stroke="#1f1f1f" stroke-width="0.22" font-style="italic" textLength="2.3" lengthAdjust="spacingAndGlyphs" >i</text>
<text x="123.9" y="227.5" font-size="6.8" text-anchor="start" font-family="'Liberation Serif', 'DejaVu Serif', serif" fill="#1f1f1f" stroke="#1f1f1f" stroke-width="0.22" font-style="italic" textLength="27" lengthAdjust="spacingAndGlyphs" >OCL,max</text>
<text x="154.5" y="226.3" font-size="9.4" text-anchor="start" font-family="'Liberation Serif', 'DejaVu Serif', serif" fill="#1f1f1f" stroke="#1f1f1f" stroke-width="0.22" textLength="6" lengthAdjust="spacingAndGlyphs" >=</text>
<text x="163.6" y="226.3" font-size="9.4" text-anchor="start" font-family="'Liberation Serif', 'DejaVu Serif', serif" fill="#1f1f1f" stroke="#1f1f1f" stroke-width="0.22" textLength="12.3" lengthAdjust="spacingAndGlyphs" >201</text>
<text x="179.9" y="226.3" font-size="9.4" text-anchor="start" font-family="'Liberation Serif', 'DejaVu Serif', serif" fill="#1f1f1f" stroke="#1f1f1f" stroke-width="0.22" textLength="5.7" lengthAdjust="spacingAndGlyphs" >A</text>
<text x="106.1" y="395.8" font-size="8.8" text-anchor="start" font-family="'Liberation Serif', 'DejaVu Serif', serif" fill="#1f1f1f" stroke="#1f1f1f" stroke-width="0.22" font-style="italic" textLength="4.3" lengthAdjust="spacingAndGlyphs" >θ</text>
<text x="110.6" y="397.3" font-size="6.8" text-anchor="start" font-family="'Liberation Serif', 'DejaVu Serif', serif" fill="#1f1f1f" stroke="#1f1f1f" stroke-width="0.22" font-style="italic" textLength="27.1" lengthAdjust="spacingAndGlyphs" >OCL,max</text>
<text x="141.5" y="396.4" font-size="9.4" text-anchor="start" font-family="'Liberation Serif', 'DejaVu Serif', serif" fill="#1f1f1f" stroke="#1f1f1f" stroke-width="0.22" textLength="6" lengthAdjust="spacingAndGlyphs" >=</text>
<text x="151.1" y="396.4" font-size="9.4" text-anchor="start" font-family="'Liberation Serif', 'DejaVu Serif', serif" fill="#1f1f1f" stroke="#1f1f1f" stroke-width="0.22" textLength="8.4" lengthAdjust="spacingAndGlyphs" >40</text>
<text x="162.4" y="395.4" font-size="8.6" text-anchor="start" font-family="'Liberation Serif', 'DejaVu Serif', serif" fill="#444" stroke="#444" stroke-width="0.05" >°</text>
<text x="166.3" y="396.4" font-size="9.4" text-anchor="start" font-family="'Liberation Serif', 'DejaVu Serif', serif" fill="#1f1f1f" stroke="#1f1f1f" stroke-width="0.22" textLength="5.9" lengthAdjust="spacingAndGlyphs" >C</text>
<text x="106.1" y="405.7" font-size="8.8" text-anchor="start" font-family="'Liberation Serif', 'DejaVu Serif', serif" fill="#1f1f1f" stroke="#1f1f1f" stroke-width="0.22" font-style="italic" textLength="4.3" lengthAdjust="spacingAndGlyphs" >θ</text>
<text x="110.6" y="407.4" font-size="6.8" text-anchor="start" font-family="'Liberation Serif', 'DejaVu Serif', serif" fill="#1f1f1f" stroke="#1f1f1f" stroke-width="0.22" font-style="italic" textLength="26.5" lengthAdjust="spacingAndGlyphs" >OCL,min</text>
<text x="140.7" y="406.3" font-size="9.4" text-anchor="start" font-family="'Liberation Serif', 'DejaVu Serif', serif" fill="#1f1f1f" stroke="#1f1f1f" stroke-width="0.22" textLength="6.1" lengthAdjust="spacingAndGlyphs" >=</text>
<text x="149.9" y="406.3" font-size="9.4" text-anchor="start" font-family="'Liberation Serif', 'DejaVu Serif', serif" fill="#1f1f1f" stroke="#1f1f1f" stroke-width="0.22" textLength="8.7" lengthAdjust="spacingAndGlyphs" >30</text>
<text x="161.5" y="405.3" font-size="8.6" text-anchor="start" font-family="'Liberation Serif', 'DejaVu Serif', serif" fill="#444" stroke="#444" stroke-width="0.05" >°</text>
<text x="165.4" y="406.3" font-size="9.4" text-anchor="start" font-family="'Liberation Serif', 'DejaVu Serif', serif" fill="#1f1f1f" stroke="#1f1f1f" stroke-width="0.22" textLength="5.9" lengthAdjust="spacingAndGlyphs" >C</text>
<text x="208.8" y="166.3" font-size="10.2" text-anchor="start" font-family="'Liberation Serif', 'DejaVu Serif', serif" fill="#2a2a2a" stroke="#2a2a2a" stroke-width="0.1" font-style="italic" textLength="2.3" lengthAdjust="spacingAndGlyphs" >l</text>
<text x="211.3" y="167.2" font-size="7.2" text-anchor="start" font-family="'Liberation Serif', 'DejaVu Serif', serif" fill="#2a2a2a" stroke="#2a2a2a" stroke-width="0.1" font-style="italic" textLength="15.4" lengthAdjust="spacingAndGlyphs" >OCL</text>
<text x="231" y="166.3" font-size="10.2" text-anchor="start" font-family="'Liberation Serif', 'DejaVu Serif', serif" fill="#2a2a2a" stroke="#2a2a2a" stroke-width="0.05" textLength="12.4" lengthAdjust="spacingAndGlyphs" >[m]</text>
<text x="210.7" y="344.3" font-size="10.2" text-anchor="start" font-family="'Liberation Serif', 'DejaVu Serif', serif" fill="#2a2a2a" stroke="#2a2a2a" stroke-width="0.1" font-style="italic" textLength="2.3" lengthAdjust="spacingAndGlyphs" >l</text>
<text x="213.2" y="345.2" font-size="7.2" text-anchor="start" font-family="'Liberation Serif', 'DejaVu Serif', serif" fill="#2a2a2a" stroke="#2a2a2a" stroke-width="0.1" font-style="italic" textLength="15.4" lengthAdjust="spacingAndGlyphs" >OCL</text>
<text x="232.9" y="344.3" font-size="10.2" text-anchor="start" font-family="'Liberation Serif', 'DejaVu Serif', serif" fill="#2a2a2a" stroke="#2a2a2a" stroke-width="0.05" textLength="12.4" lengthAdjust="spacingAndGlyphs" >[m]</text>
<text x="205.7" y="527" font-size="10.2" text-anchor="start" font-family="'Liberation Serif', 'DejaVu Serif', serif" fill="#2a2a2a" stroke="#2a2a2a" stroke-width="0.1" font-style="italic" textLength="2.3" lengthAdjust="spacingAndGlyphs" >l</text>
<text x="208.2" y="527.9" font-size="7.2" text-anchor="start" font-family="'Liberation Serif', 'DejaVu Serif', serif" fill="#2a2a2a" stroke="#2a2a2a" stroke-width="0.1" font-style="italic" textLength="15.4" lengthAdjust="spacingAndGlyphs" >OCL</text>
<text x="227.9" y="527" font-size="10.2" text-anchor="start" font-family="'Liberation Serif', 'DejaVu Serif', serif" fill="#2a2a2a" stroke="#2a2a2a" stroke-width="0.05" textLength="12.4" lengthAdjust="spacingAndGlyphs" >[m]</text>
<g transform="translate(10.9,93) rotate(-90)">
<text x="0.2" y="0" font-size="10.0" text-anchor="start" font-family="'Liberation Serif', 'DejaVu Serif', serif" fill="#1f1f1f" stroke="#1f1f1f" stroke-width="0.22" font-style="italic" textLength="6.6" lengthAdjust="spacingAndGlyphs" >V</text>
<text x="6.8" y="1.9" font-size="7.0" text-anchor="start" font-family="'Liberation Serif', 'DejaVu Serif', serif" fill="#1f1f1f" stroke="#1f1f1f" stroke-width="0.22" font-style="italic" textLength="13.4" lengthAdjust="spacingAndGlyphs" >OCL</text>
<text x="25.6" y="0" font-size="10.0" text-anchor="start" font-family="'Liberation Serif', 'DejaVu Serif', serif" fill="#1f1f1f" stroke="#1f1f1f" stroke-width="0.22" textLength="10.2" lengthAdjust="spacingAndGlyphs" >[V]</text>
</g>
<g transform="translate(14,271.9) rotate(-90)">
<text x="0.2" y="0" font-size="10.0" text-anchor="start" font-family="'Liberation Serif', 'DejaVu Serif', serif" fill="#1f1f1f" stroke="#1f1f1f" stroke-width="0.22" font-style="italic" textLength="2.9" lengthAdjust="spacingAndGlyphs" >i</text>
<text x="3.6" y="1.3" font-size="7.0" text-anchor="start" font-family="'Liberation Serif', 'DejaVu Serif', serif" fill="#1f1f1f" stroke="#1f1f1f" stroke-width="0.22" font-style="italic" textLength="13.2" lengthAdjust="spacingAndGlyphs" >OCL</text>
<text x="22.9" y="0" font-size="10.0" text-anchor="start" font-family="'Liberation Serif', 'DejaVu Serif', serif" fill="#1f1f1f" stroke="#1f1f1f" stroke-width="0.22" textLength="10.1" lengthAdjust="spacingAndGlyphs" >[A]</text>
</g>
<g transform="translate(12.8,459.1) rotate(-90)">
<text x="0.2" y="-0.3" font-size="8.8" text-anchor="start" font-family="'Liberation Serif', 'DejaVu Serif', serif" fill="#1f1f1f" stroke="#1f1f1f" stroke-width="0.22" font-style="italic" textLength="5.2" lengthAdjust="spacingAndGlyphs" >θ</text>
<text x="5.6" y="2.3" font-size="7.0" text-anchor="start" font-family="'Liberation Serif', 'DejaVu Serif', serif" fill="#1f1f1f" stroke="#1f1f1f" stroke-width="0.22" font-style="italic" textLength="17.6" lengthAdjust="spacingAndGlyphs" >OCL,s</text>
<text x="26.9" y="0.6" font-size="10.0" text-anchor="start" font-family="'Liberation Serif', 'DejaVu Serif', serif" fill="#1f1f1f" stroke="#1f1f1f" stroke-width="0.22" textLength="2.5" lengthAdjust="spacingAndGlyphs" >[</text>
<text x="29.3" y="0.6" font-size="8.6" text-anchor="start" font-family="'Liberation Serif', 'DejaVu Serif', serif" fill="#444" stroke="#444" stroke-width="0.05" >°</text>
<text x="33.2" y="0" font-size="10.0" text-anchor="start" font-family="'Liberation Serif', 'DejaVu Serif', serif" fill="#1f1f1f" stroke="#1f1f1f" stroke-width="0.22" textLength="6.9" lengthAdjust="spacingAndGlyphs" >C</text>
<text x="39.9" y="0.6" font-size="10.0" text-anchor="start" font-family="'Liberation Serif', 'DejaVu Serif', serif" fill="#1f1f1f" stroke="#1f1f1f" stroke-width="0.22" textLength="2.5" lengthAdjust="spacingAndGlyphs" >]</text>
</g>
<text x="215.1" y="180.2" font-size="11.6" text-anchor="start" font-family="'Liberation Serif', 'DejaVu Serif', serif" fill="#1a1a1a" stroke="#1a1a1a" stroke-width="0.3" textLength="12.1" lengthAdjust="spacingAndGlyphs" font-weight="bold">(a)</text>
<text x="214.1" y="360.7" font-size="11.6" text-anchor="start" font-family="'Liberation Serif', 'DejaVu Serif', serif" fill="#1a1a1a" stroke="#1a1a1a" stroke-width="0.3" textLength="13.8" lengthAdjust="spacingAndGlyphs" font-weight="bold">(b)</text>
<text x="215.3" y="543.3" font-size="11.6" text-anchor="start" font-family="'Liberation Serif', 'DejaVu Serif', serif" fill="#1a1a1a" stroke="#1a1a1a" stroke-width="0.3" textLength="11.4" lengthAdjust="spacingAndGlyphs" font-weight="bold">(c)</text>
<text x="358.8" y="203.1" font-size="9.0" text-anchor="start" font-family="'Liberation Serif', 'DejaVu Serif', serif" fill="#1f1f1f" stroke="#1f1f1f" stroke-width="0.22" textLength="47.1" lengthAdjust="spacingAndGlyphs" >positive wire</text>
<text x="358.8" y="213" font-size="9.0" text-anchor="start" font-family="'Liberation Serif', 'DejaVu Serif', serif" fill="#1f1f1f" stroke="#1f1f1f" stroke-width="0.22" textLength="50.2" lengthAdjust="spacingAndGlyphs" >negative wire</text>
</svg>
</body></html>
